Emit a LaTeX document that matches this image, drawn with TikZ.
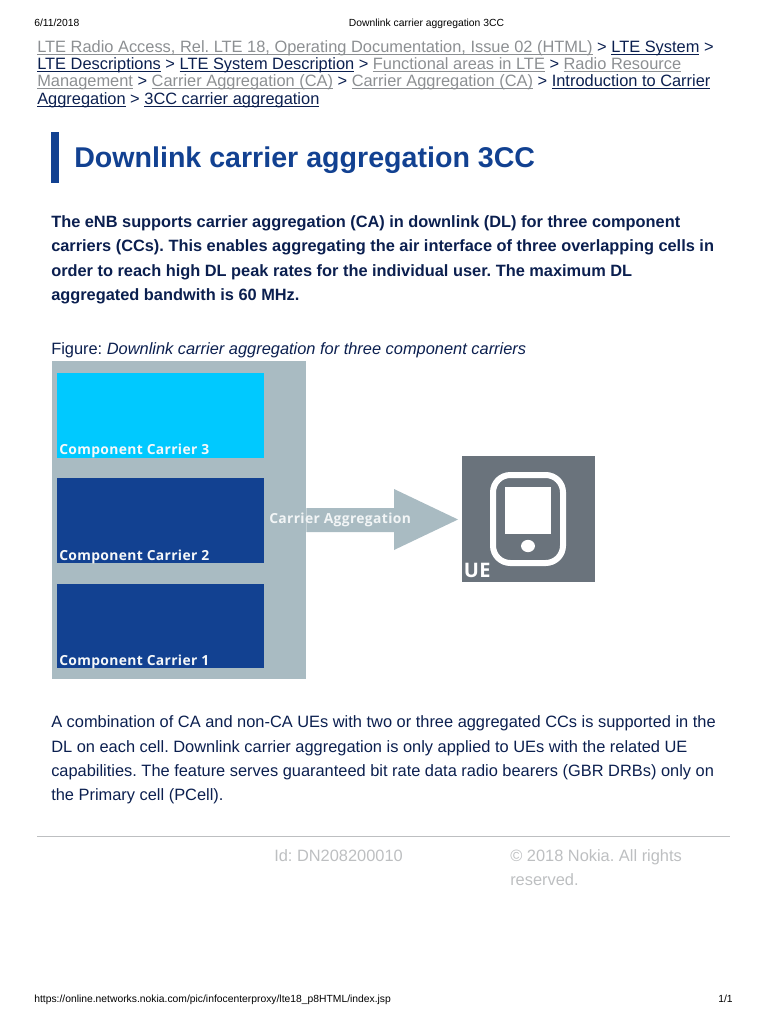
\documentclass[tikz,border=0pt]{standalone}
\usepackage{fontspec}
\setmainfont{Liberation Sans}
\newfontfamily\figfont[LetterSpace=2.5]{Open Sans}
\usetikzlibrary{positioning}
\definecolor{navytext}{HTML}{0B1F4F}
\definecolor{greylink}{HTML}{8C8F92}
\definecolor{titleblue}{HTML}{124191}
\definecolor{panelgrey}{HTML}{A9BBC2}
\definecolor{uegrey}{HTML}{6A737C}
\definecolor{skyblue}{HTML}{00C9FF}
\definecolor{footgrey}{HTML}{BDBFC1}
\newcommand{\px}{0.75pt}
\newcommand{\lnk}[1]{\setbox0=\hbox{#1}\rlap{\rule[-1.6pt]{\wd0}{0.55pt}}#1}
\tikzset{
  pagetext/.style={anchor=base west, inner sep=0pt, font=\fontsize{7.75}{10}\selectfont, text=black},
  crumb/.style={anchor=base west, inner sep=0pt, font=\fontsize{12.3}{14}\selectfont\frenchspacing, text=navytext},
  bodybold/.style={anchor=base west, inner sep=0pt, font=\fontsize{12.27}{14}\selectfont\bfseries\frenchspacing, text=navytext},
  bodyplain/.style={anchor=base west, inner sep=0pt, font=\fontsize{12.3}{14}\selectfont\frenchspacing, text=navytext},
  foot/.style={anchor=base west, inner sep=0pt, font=\fontsize{12.3}{14}\selectfont\frenchspacing, text=footgrey},
  carrier/.style={rectangle, inner sep=0pt, minimum width=207*\px, minimum height=84.5*\px, fill=titleblue},
  carrierlabel/.style={anchor=base west, inner sep=0pt, font=\figfont\fontsize{10.4}{12}\selectfont\bfseries, text=white!90!panelgrey}
}
\begin{document}
\begin{tikzpicture}[x=0.75pt, y=-0.75pt]
  \useasboundingbox (0,0) rectangle (768,1024);
  % print header
  \node[pagetext] (date) at (34,27) {6/11/2018};
  \node[pagetext, anchor=base] (headtitle) at (426.5,27) {Downlink carrier aggregation 3CC};

  % breadcrumb
  \node[crumb] (crumba) at (37,52.3) {\textcolor{greylink}{\lnk{LTE Radio Access, Rel. LTE 18, Operating Documentation, Issue 02 (HTML)}} > \lnk{LTE System} >};
  \node[crumb] (crumbb) at (37,69.3) {\lnk{LTE Descriptions} > \lnk{LTE System Description} > \textcolor{greylink}{\lnk{Functional areas in LTE}} > \textcolor{greylink}{\lnk{Radio Resource}}};
  \node[crumb] (crumbc) at (37,86.7) {\textcolor{greylink}{\lnk{Management}} > \textcolor{greylink}{\lnk{Carrier Aggregation (CA)}} > \textcolor{greylink}{\lnk{Carrier Aggregation (CA)}} > \lnk{Introduction to Carrier}};
  \node[crumb] (crumbd) at (37,104.3) {\lnk{Aggregation} > \lnk{3CC carrier aggregation}};

  % title
  \fill[titleblue] (51,132) rectangle (59,183);
  \node[anchor=base west, inner sep=0pt, font=\fontsize{21.45}{24}\selectfont\bfseries, text=titleblue] (title) at (74,167) {Downlink carrier aggregation 3CC};

  % intro
  \node[bodybold] (introa) at (51,227) {The eNB supports carrier aggregation (CA) in downlink (DL) for three component};
  \node[bodybold] (introb) at (51,251) {carriers (CCs). This enables aggregating the air interface of three overlapping cells in};
  \node[bodybold] (introc) at (51,276) {order to reach high DL peak rates for the individual user. The maximum DL};
  \node[bodybold] (introd) at (51,300) {aggregated bandwith is 60 MHz.};

  \node[bodyplain] (figcap) at (51,354) {Figure: \textit{Downlink carrier aggregation for three component carriers}};

  % figure
  \node[rectangle, inner sep=0pt, minimum width=254*\px, minimum height=318*\px, fill=panelgrey] (panel) at (179,520) {};
  \node[carrier, fill=skyblue] (ccthree) at (160.5,415.25) {};
  \node[carrier] (cctwo) at (160.5,520.25) {};
  \node[carrier] (ccone) at (160.5,626) {};
  \node[carrierlabel] (labthree) at (59,454) {Component Carrier 3};
  \node[carrierlabel] (labtwo) at (59,560) {Component Carrier 2};
  \node[carrierlabel] (labone) at (59,665.5) {Component Carrier 1};

  \coordinate (shafttop) at (panel.east |- 0,508);
  \coordinate (shaftbot) at (panel.east |- 0,532);
  \fill[panelgrey] (shafttop) -- (394,508) -- (394,489) -- (458,519.5) -- (394,550) -- (394,532) -- (shaftbot) -- cycle;
  \node[anchor=base west, inner sep=0pt, font=\figfont\fontsize{10.4}{12}\selectfont\bfseries, text=white!85!panelgrey] (arrowlab) at (269,523) {Carrier Aggregation};

  \node[rectangle, inner sep=0pt, minimum width=133*\px, minimum height=126*\px, fill=uegrey] (ue) at (528,519) {};
  \draw[white, line width=4.5pt, rounded corners=13pt] (493,475) rectangle (563,563);
  \fill[white] (505,487) rectangle (551,534);
  \fill[white] (528,546) ellipse [x radius=5.2pt, y radius=4.6pt];
  \node[anchor=base west, inner sep=0pt, font=\figfont\fontsize{15}{18}\selectfont\bfseries, text=white] (uelab) at (463.5,577.5) {UE};

  % closing text
  \node[bodyplain] (closea) at (51,727) {A combination of CA and non-CA UEs with two or three aggregated CCs is supported in the};
  \node[bodyplain] (closeb) at (51,752) {DL on each cell. Downlink carrier aggregation is only applied to UEs with the related UE};
  \node[bodyplain] (closec) at (51,776) {capabilities. The feature serves guaranteed bit rate data radio bearers (GBR DRBs) only on};
  \node[bodyplain] (closed) at (51,800) {the Primary cell (PCell).};

  % footer
  \draw[footgrey, line width=0.75pt] (37,836) -- (730,836);
  \node[foot] (docid) at (274,861) {Id: DN208200010};
  \node[foot] (copya) at (510,861) {© 2018 Nokia. All rights};
  \node[foot] (copyb) at (510,885) {reserved.};
  \node[pagetext] (url) at (34,1002) {https://online.networks.nokia.com/pic/infocenterproxy/lte18\_p8HTML/index.jsp};
  \node[pagetext, anchor=base east] (pageno) at (733,1002) {1/1};
\end{tikzpicture}
\end{document}
